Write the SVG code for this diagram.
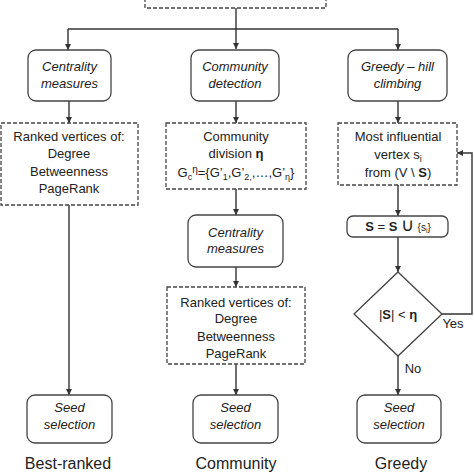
<svg xmlns="http://www.w3.org/2000/svg" width="474" height="474" viewBox="0 0 474 474">
<defs>
<marker id="ah" markerUnits="userSpaceOnUse" markerWidth="7" markerHeight="7" refX="6" refY="3" orient="auto">
<path d="M0,0 L6,3 L0,6 z" fill="#333"/>
</marker>
<style>
.rb{fill:#fff;stroke:#444;stroke-width:1.3}
.db{fill:#fff;stroke:#444;stroke-width:1.3;stroke-dasharray:4,2}
.c{fill:none;stroke:#333;stroke-width:1.4}
text{font-family:"Liberation Sans",Arial,sans-serif;fill:#222;text-anchor:middle}
.t{font-size:13px}
.i{font-size:13px;font-style:italic}
.lbl{font-size:16px}
.b{font-weight:bold}
</style>
</defs>
<rect width="474" height="474" fill="#fff"/>

<g id="connectors">
<line class="c" x1="236" y1="8" x2="236" y2="49" marker-end="url(#ah)"/>
<line class="c" x1="68" y1="29" x2="398" y2="29"/>
<line class="c" x1="68" y1="29" x2="68" y2="50" marker-end="url(#ah)"/>
<line class="c" x1="398" y1="29" x2="398" y2="50" marker-end="url(#ah)"/>
<line class="c" x1="69" y1="101" x2="69" y2="123" marker-end="url(#ah)"/>
<line class="c" x1="236" y1="101" x2="236" y2="123" marker-end="url(#ah)"/>
<line class="c" x1="398" y1="101" x2="398" y2="123" marker-end="url(#ah)"/>
<line class="c" x1="69" y1="205" x2="69" y2="395" marker-end="url(#ah)"/>
<line class="c" x1="236" y1="189" x2="236" y2="215" marker-end="url(#ah)"/>
<line class="c" x1="236" y1="267" x2="236" y2="287" marker-end="url(#ah)"/>
<line class="c" x1="236" y1="364" x2="236" y2="395" marker-end="url(#ah)"/>
<line class="c" x1="398" y1="185" x2="398" y2="216" marker-end="url(#ah)"/>
<line class="c" x1="398" y1="237" x2="398" y2="272" marker-end="url(#ah)"/>
<line class="c" x1="398" y1="356" x2="398" y2="395" marker-end="url(#ah)"/>
<polyline class="c" points="442,314 472,314 472,153 457,153" marker-end="url(#ah)"/>
<text class="t" x="453" y="328">Yes</text>
<text class="t" x="413" y="373">No</text>
</g>

<g id="top">
<rect class="db" x="145" y="-20" width="181" height="28"/>
</g>

<g id="centrality1">
<rect class="rb" x="28" y="50" width="83" height="51" rx="8"/>
<text class="i" x="69.5" y="71">Centrality</text>
<text class="i" x="69.5" y="88">measures</text>
</g>

<g id="community">
<rect class="rb" x="191" y="50" width="88" height="51" rx="8"/>
<text class="i" x="235" y="71">Community</text>
<text class="i" x="235" y="88">detection</text>
</g>

<g id="greedy">
<rect class="rb" x="348" y="50" width="99" height="51" rx="8"/>
<text class="i" x="397.5" y="71">Greedy – hill</text>
<text class="i" x="397.5" y="88">climbing</text>
</g>

<g id="ranked1">
<rect class="db" x="1" y="123" width="137" height="82"/>
<text class="t" x="69" y="141">Ranked vertices of:</text>
<text class="t" x="69" y="158">Degree</text>
<text class="t" x="69" y="176">Betweenness</text>
<text class="t" x="69" y="193">PageRank</text>
</g>

<g id="division">
<rect class="db" x="166" y="123" width="140" height="66"/>
<text class="t" x="236" y="141">Community</text>
<text class="t" x="236" y="158">division <tspan class="b">η</tspan></text>
<text class="t" x="236" y="177">G<tspan font-size="9" dy="3">c</tspan><tspan font-size="10" dy="-7">η</tspan><tspan dy="4">={G’</tspan><tspan font-size="9" dy="3">1</tspan><tspan dy="-3">,G’</tspan><tspan font-size="9" dy="3">2,</tspan><tspan dy="-3">,…,G’</tspan><tspan font-size="9" dy="3">η</tspan><tspan dy="-3">}</tspan></text>
</g>

<g id="centrality2">
<rect class="rb" x="188" y="215" width="95" height="52" rx="8"/>
<text class="i" x="235.5" y="237">Centrality</text>
<text class="i" x="235.5" y="253">measures</text>
</g>

<g id="ranked2">
<rect class="db" x="167" y="287" width="138" height="77"/>
<text class="t" x="236" y="307">Ranked vertices of:</text>
<text class="t" x="236" y="323">Degree</text>
<text class="t" x="236" y="341">Betweenness</text>
<text class="t" x="236" y="358">PageRank</text>
</g>

<g id="influential">
<rect class="db" x="338" y="123" width="119" height="62"/>
<text class="t" x="398" y="141">Most influential</text>
<text class="t" x="398" y="159">vertex s<tspan font-size="9" dy="3">i</tspan></text>
<text class="t" x="398" y="177">from (V \ <tspan class="b">S</tspan>)</text>
</g>

<g id="union">
<rect class="rb" x="347" y="216" width="101" height="21" rx="6"/>
<text class="t" x="398" y="231"><tspan class="b">S</tspan> = <tspan class="b">S</tspan>  <tspan font-family="Liberation Serif, serif" font-size="18">∪</tspan>  <tspan font-size="10">{s</tspan><tspan font-size="7" dy="2">i</tspan><tspan font-size="10" dy="-2">}</tspan></text>
</g>

<g id="decision">
<polygon class="rb" points="398,272 442,314 398,356 354,314"/>
<text class="t" x="398" y="319">|<tspan class="b">S</tspan>| &lt; <tspan class="b">η</tspan></text>
</g>

<g id="seed1">
<rect class="rb" x="27" y="395" width="85" height="48" rx="8"/>
<text class="i" x="69.5" y="412">Seed</text>
<text class="i" x="69.5" y="429">selection</text>
<text class="lbl" x="68" y="469">Best-ranked</text>
</g>

<g id="seed2">
<rect class="rb" x="193" y="395" width="85" height="48" rx="8"/>
<text class="i" x="235.5" y="412">Seed</text>
<text class="i" x="235.5" y="429">selection</text>
<text class="lbl" x="236" y="469">Community</text>
</g>

<g id="seed3">
<rect class="rb" x="357" y="395" width="84" height="48" rx="8"/>
<text class="i" x="399" y="412">Seed</text>
<text class="i" x="399" y="429">selection</text>
<text class="lbl" x="401" y="469">Greedy</text>
</g>
</svg>
